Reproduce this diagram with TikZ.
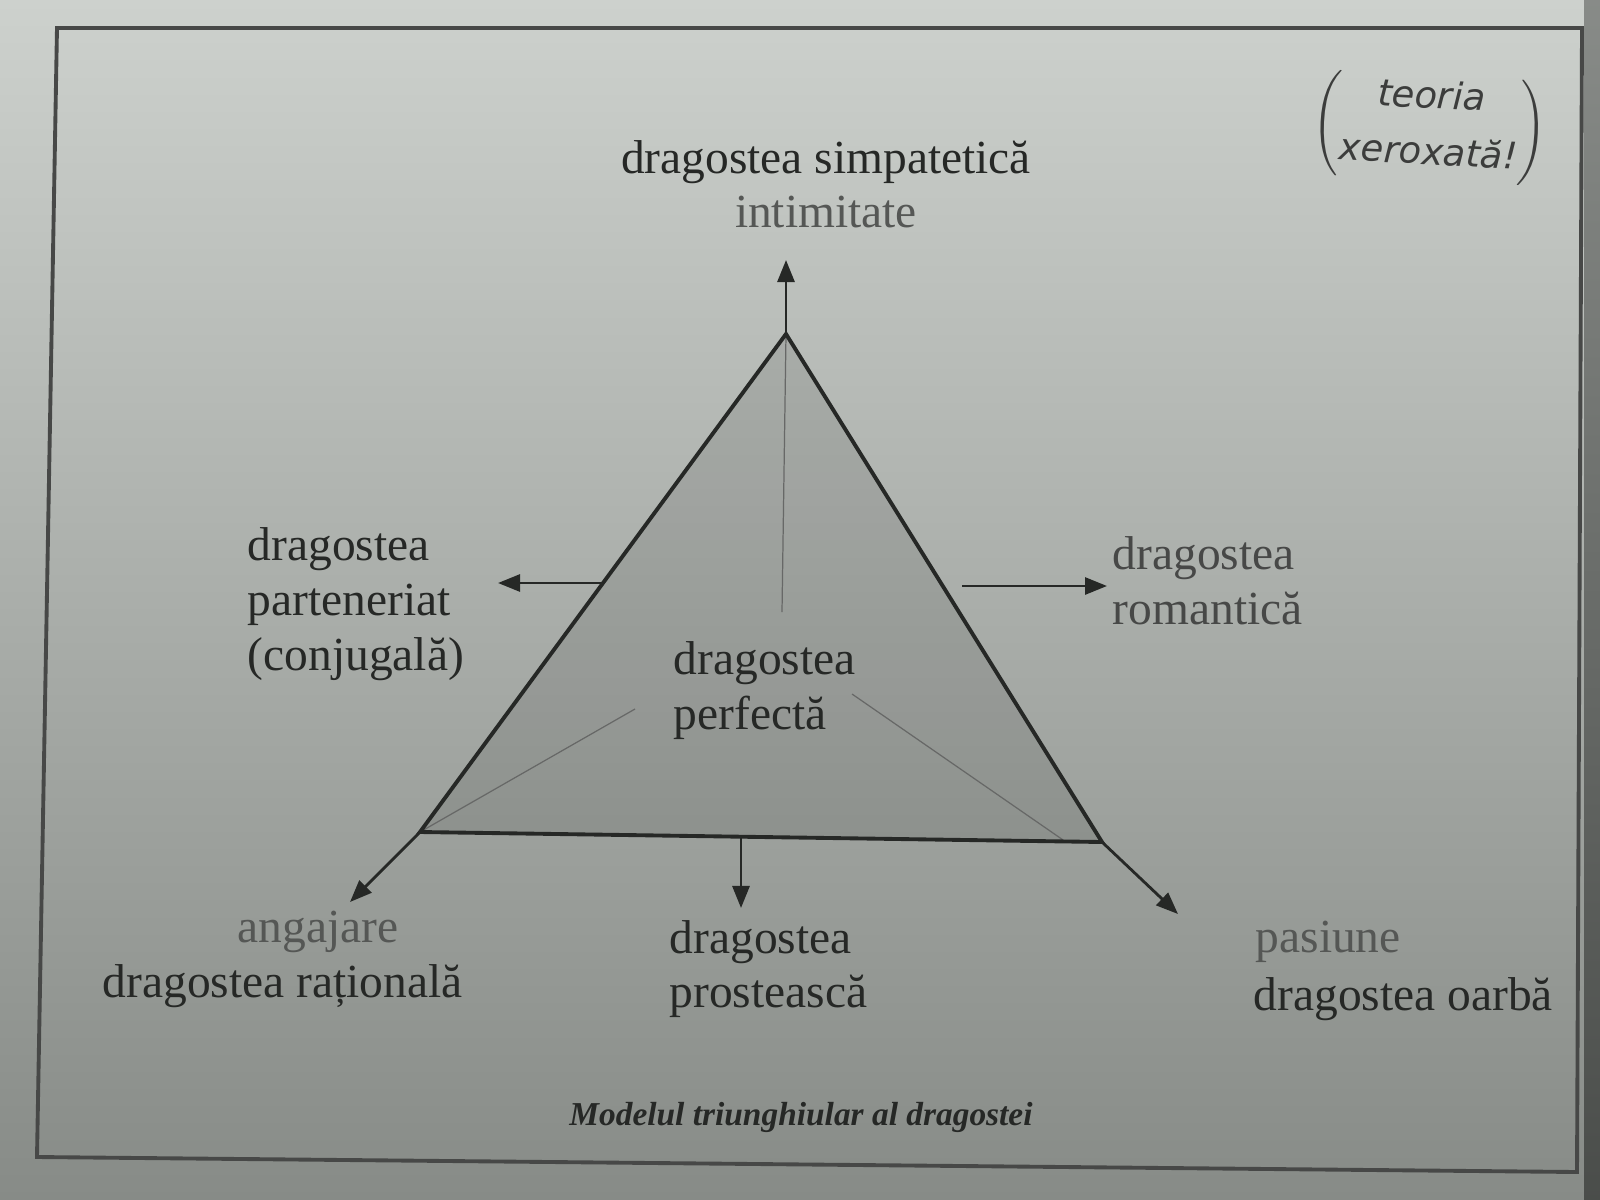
\documentclass[tikz,border=0pt]{standalone}
\usepackage{fontspec}
\setmainfont{Liberation Serif}
\newfontfamily\handfont{DejaVu Sans}
\usetikzlibrary{arrows.meta,calc}
\definecolor{paperTop}{HTML}{CDD1CD}
\definecolor{paperBot}{HTML}{878B87}
\definecolor{ink}{HTML}{262826}
\definecolor{inkLight}{HTML}{555755}
\definecolor{edgeDark}{HTML}{6A6E6A}
\begin{document}
\begin{tikzpicture}[x=0.01cm,y=-0.01cm,
  lbl/.style={text=ink, font=\fontsize{13.5}{15.6}\selectfont, inner sep=0pt, align=left},
  lbllight/.style={lbl, text=inkLight},
  arr/.style={draw=ink, line width=0.8pt, -{Triangle[length=0.22cm,width=0.17cm]}},
  inner/.style={draw=ink!70, line width=0.35pt},
  tri/.style={draw=ink, line width=1.1pt, line join=miter}]
\useasboundingbox (0,0) rectangle (1600,1200);
% paper
\shade[top color=paperTop, bottom color=paperBot] (0,0) rectangle (1600,1200);
\shade[top color=edgeDark!80, bottom color=edgeDark!70!black] (1584,0) rectangle (1600,1200);
% frame
\draw[ink!85, line width=1.1pt] (57,28) -- (1582,28) -- (1577,1172) -- (37,1157) -- cycle;
% triangle
\coordinate (A) at (786,334);
\coordinate (B) at (420,832);
\coordinate (C) at (1102,842);
\fill[black, opacity=0.09] (A) -- (B) -- (C) -- cycle;
\coordinate (Vin) at (782,612);
\coordinate (Lin) at (635,709);
\coordinate (Rin) at (852,694);
\coordinate (Rend) at (1066,842);
\draw[inner] (A) -- (Vin);
\draw[inner] (B) -- (Lin);
\draw[inner] (Rin) -- (Rend);
\draw[tri] (A) -- (B) -- (C) -- cycle;
% arrow ends
\coordinate (Lstart) at ($(A)!0.5!(B)$);
\coordinate (Lend) at (498,583);
\coordinate (Rstart) at (962,586);
\coordinate (Rtip) at (1107,586);
\coordinate (Up) at (786,260);
\coordinate (Bstart) at (741,837);
\coordinate (Bend) at (741,908);
\coordinate (BLend) at (350,902);
\coordinate (BRend) at (1178,914);
\draw[arr] (A) -- (Up);
\draw[arr] (Lstart) -- (Lend);
\draw[arr] (Rstart) -- (Rtip);
\draw[arr] (Bstart) -- (Bend);
\draw[arr] (B) -- (BLend);
\draw[arr] (C) -- (BRend);
% labels
\node[lbl, align=center] (sympa) at (826,162) {dragostea simpatetică};
\node[lbllight] (intim) at (826,212) {intimitate};
\node[lbl, anchor=west] (partner) at (247,604) {dragostea\\parteneriat\\(conjugală)};
\node[lbl, anchor=west, text=ink!85] (roman) at (1112,581) {dragostea\\romantică};
\node[lbl, anchor=west] (perfect) at (673,691) {dragostea\\perfectă};
\node[lbllight, anchor=west] (angaj) at (237,932) {angajare};
\node[lbl, anchor=west] (ration) at (102,986) {dragostea rațională};
\node[lbl, anchor=west] (prost) at (669,969) {dragostea\\prostească};
\node[lbllight, anchor=west] (pasiune) at (1255,942) {pasiune};
\node[lbl, anchor=west] (oarba) at (1253,999) {dragostea oarbă};
% caption
\node[text=ink, font=\fontsize{9.5}{11}\selectfont\bfseries\itshape, inner sep=0pt] (caption) at (801,1117) {Modelul triunghiular al dragostei};
% handwritten note
\node[text=ink!90, font=\handfont\fontsize{10.5}{12}\selectfont\itshape, inner sep=0pt, rotate=-3] (note) at (1430,128)
  {$\left(\vcenter{\hbox{\begin{tabular}{@{}c@{}}teoria\\[4pt] xeroxată!\end{tabular}}}\right)$};
\end{tikzpicture}
\end{document}
